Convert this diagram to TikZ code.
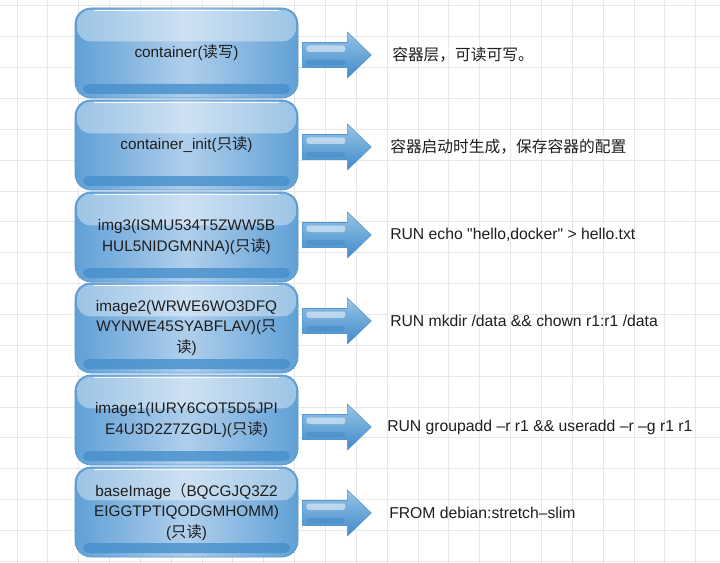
\documentclass[tikz,border=0pt]{standalone}
\usepackage{fontspec}
\setmainfont{Liberation Sans}
\newfontfamily\cjk{Noto Sans CJK SC}
\newcommand{\zh}[1]{{\cjk #1}}
\usepackage{xcolor}
\definecolor{GridGray}{RGB}{232,232,232}
\definecolor{BoxEdge}{RGB}{86,150,206}
\definecolor{BoxSide}{RGB}{96,160,214}
\definecolor{BoxMid}{RGB}{176,207,236}
\definecolor{BoxBand}{RGB}{70,143,204}
\definecolor{ArrowLight}{RGB}{150,196,232}
\definecolor{ArrowDark}{RGB}{66,138,200}
\definecolor{TextBlack}{RGB}{30,30,30}
\usetikzlibrary{calc}

\tikzset{
  gridline/.style={draw=GridGray, line width=0.75pt},
  layerbox/.style={draw=BoxEdge, line width=0.5pt, rounded corners=12pt,
    minimum width=167.25pt, minimum height=67.5pt, inner sep=0pt,
    align=center, text=TextBlack, font=\fontsize{11.5}{15.4}\selectfont,
    left color=BoxSide, right color=BoxSide, middle color=BoxMid,
    path picture={
      \fill[white, opacity=0.38, rounded corners=10pt]
        ($(path picture bounding box.north west)+(1.5pt,-1.5pt)$) rectangle
        ($(path picture bounding box.north east)+(-1.5pt,-25pt)$);
      \draw[white, line width=1pt, opacity=0.9]
        ($(path picture bounding box.north west)+(14pt,-2pt)$) --
        ($(path picture bounding box.north east)+(-14pt,-2pt)$);
      \fill[BoxBand, opacity=0.8, rounded corners=4pt]
        ($(path picture bounding box.south west)+(6pt,3pt)$) rectangle
        ($(path picture bounding box.south east)+(-6pt,10.5pt)$);
    }},
  notetext/.style={anchor=west, inner sep=0pt, text=TextBlack,
    font=\fontsize{11.8}{14}\selectfont},
  arrowbody/.style={top color=ArrowLight, bottom color=ArrowDark,
    draw=BoxEdge, line width=0.4pt},
}

% block arrow from a layer to its note
\newcommand{\layerarrow}[2]{%
  \coordinate (s) at ($(#1.east |- #2.west)+(4,0)$);
  \shade[arrowbody] (s) ++(0,-12.5) -- ++(45,0) -- ++(0,-10.5) -- ++(24,23)
    -- ++(-24,23) -- ++(0,-10.5) -- ++(-45,0) -- cycle;
  \fill[white, opacity=0.5, rounded corners=2pt] ($(s)+(4,-9.5)$) rectangle ($(s)+(43,-3)$);
  \fill[ArrowDark, opacity=0.55, rounded corners=2pt] ($(s)+(4,5)$) rectangle ($(s)+(43,10)$);
}

\begin{document}
\begin{tikzpicture}[x=0.75pt, y=-0.75pt]

  % Background
  \fill[white] (0,0) rectangle (720,563);
  \useasboundingbox (0,0) rectangle (720,563);

  % Grid
  \foreach \k in {0,...,22}
    \draw[gridline] (17+30.85*\k,0) -- (17+30.85*\k,563);
  \foreach \k in {0,...,18}
    \draw[gridline] (0,6+30.85*\k) -- (720,6+30.85*\k);

  % Layers
  \node[layerbox] (container) at (186.5,53) {container(\zh{读写})};
  \node[layerbox] (init) at (186.5,145) {container\_init(\zh{只读})};
  \node[layerbox] (img3) at (186.5,237) {img3(ISMU534T5ZWW5B\\HUL5NIDGMNNA)(\zh{只读})};
  \node[layerbox] (image2) at (186.5,328) {image2(WRWE6WO3DFQ\\WYNWE45SYABFLAV)(\zh{只}\\\zh{读})};
  \node[layerbox] (image1) at (186.5,420) {image1(IURY6COT5D5JPI\\E4U3D2Z7ZGDL)(\zh{只读})};
  \node[layerbox] (base) at (186.5,512) {baseImage\zh{（}BQCGJQ3Z2\\EIGGTPTIQODGMHOMM)\\(\zh{只读})};

  % Notes
  \node[notetext] (containernote) at (392,55) {\zh{容器层，可读可写。}};
  \node[notetext] (initnote) at (390,147) {\zh{容器启动时生成，保存容器的配置}};
  \node[notetext] (img3note) at (390,235) {RUN echo \textquotedbl hello,docker\textquotedbl{} > hello.txt};
  \node[notetext] (image2note) at (390,321) {RUN mkdir /data \&\& chown r1:r1 /data};
  \node[notetext] (image1note) at (387,427) {RUN groupadd –r r1 \&\& useradd –r –g r1 r1};
  \node[notetext] (basenote) at (389,513) {FROM debian:stretch–slim};

  % Arrows
  \layerarrow{container}{containernote}
  \layerarrow{init}{initnote}
  \layerarrow{img3}{img3note}
  \layerarrow{image2}{image2note}
  \layerarrow{image1}{image1note}
  \layerarrow{base}{basenote}

\end{tikzpicture}
\end{document}
